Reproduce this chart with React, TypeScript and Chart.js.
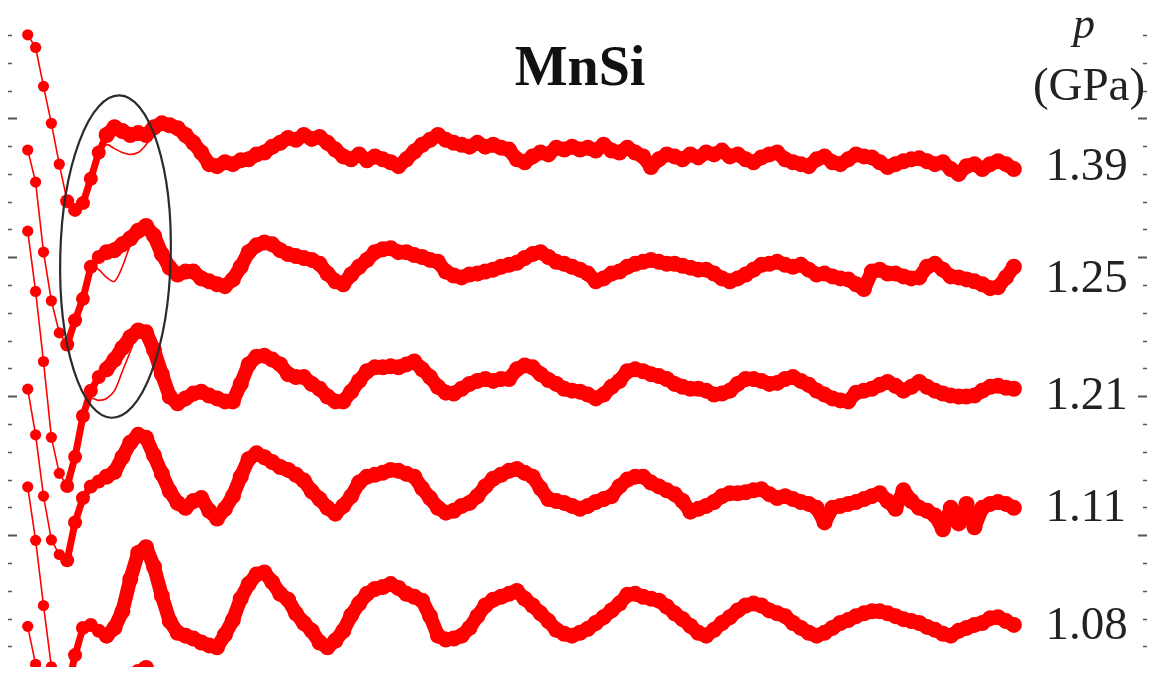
import React, { useEffect, useRef } from "react";
import { Chart, registerables } from "chart.js";

Chart.register(...registerables);

// ---- time bins (µs) ----
const BIN_START = 0.1;
const BIN_WIDTH = 0.04;

// ---- curve labels and vertical offsets (arb. units) ----
const pressures = ["1.39", "1.25", "1.21", "1.11", "1.08"];
const offsets = [268.4, 188.3, 104.0, 23.2, -61.8, -147.5];

// ---- muon spin rotation signals (deviation from each offset) ----
const p139 = [
  91.7, 82.6, 54.6, 28, -1.4, -28, -34.3, -29.4, -11.9, 7,
  19.6, 25.2, 22.4, 19.6, 21, 19.6, 25.2, 28, 26.6, 24.5,
  19.6, 14, 7, -1.4, -2.8, 0, -1.4, 1.4, 2.1, 5.6,
  7, 11.2, 14, 17.5, 16.1, 19.6, 16.8, 18.2, 14, 9.1,
  4.2, 2.1, 5.6, 1.4, 4.2, 2.1, 0, -2.8, 2.1, 7.7,
  12.6, 16.1, 19.6, 16.1, 14, 12.6, 11.2, 14, 11.2, 12.6,
  10.5, 9.1, 2.1, 0, 4.2, 7, 5.6, 10.5, 9.1, 11.2,
  9.1, 10.5, 8.4, 12.6, 8.4, 7, 10.5, 7, 4.2, -3.5,
  2.1, 5.6, 4.2, 2.1, 5.6, 3.5, 7, 5.6, 8.4, 4.2,
  5.6, 2.1, 0, 3.5, 5.6, 7, 2.1, 0, -1.4, -2.8,
  2.1, 4.2, 0, -1.4, 2.1, 5.6, 4.2, 3.5, 0, -3.5,
  -1.4, 0.7, 2.1, 2.8, 0.7, -1.4, 0, -4.9, -8.4, -2.8,
  -1.4, -4.9, -1.4, 0.7, -1.4, -4.9,
];
const p125 = [
  88.9, 65.8, 15.4, -19.6, -42.7, -51.1, -33.6, -18.2, 4.9, 11.9,
  15.4, 16.8, 21, 25.2, 30.8, 34.3, 27.3, 14, 4.2, -0.7,
  1.4, 1.4, -3.5, -5.6, -7.7, -9.1, -4.2, 4.9, 15.4, 20.3,
  22.4, 21, 16.8, 14, 12.6, 11.2, 9.8, 7, 0, -5.6,
  -7.7, -0.7, 4.9, 9.8, 15.4, 17.5, 18.2, 15.4, 15.4, 13.3,
  11.9, 9.8, 8.4, 1.4, -1.4, -2.8, -0.7, 0, 1.4, 2.8,
  4.9, 6.3, 7.7, 11.2, 14, 15.4, 11.9, 8.4, 7, 4.9,
  2.8, 0, -5.6, -3.5, 0, 1.4, 4.9, 7, 8.4, 9.8,
  8.4, 7, 7, 5.6, 4.2, 2.8, 2.8, 0, -3.5, -5.6,
  -3.5, -0.7, 2.8, 6.3, 7, 8.4, 6.3, 4.9, 6.3, 2.8,
  -0.7, 0, -2.1, -3.5, -4.2, -7.7, -11.2, 1.4, 2.8, 0,
  0, -2.1, -3.5, -2.8, 4.9, 7, 2.8, -2.1, -2.8, -4.2,
  -5.6, -7.7, -10.5, -9.8, -2.8, 4.9,
];
const p121 = [
  114.8, 71.4, 21, -33.6, -59.5, -68.6, -47.6, -18.2, 0, 9.8,
  15.4, 22.4, 30.8, 38.5, 43.4, 42, 29.4, 11.9, -4.2, -9.1,
  -5.6, -2.1, -0.7, -3.5, -5.6, -7.7, -7.7, 4.9, 18.9, 24.5,
  25.2, 22.4, 18.9, 11.9, 9.8, 9.8, 4.9, 1.4, -4.2, -7.7,
  -7.7, -0.7, 7, 14, 16.8, 16.8, 17.5, 16.8, 18.9, 21,
  15.4, 9.8, 2.8, -1.4, -2.1, 1.4, 4.9, 7, 8.4, 7,
  8.4, 8.4, 15.4, 18.2, 16.8, 11.9, 7.7, 4.9, 1.4, 0,
  -0.7, -2.8, -5.6, -2.8, 2.8, 7, 14, 15.4, 14, 11.9,
  10.5, 8.4, 4.9, 2.8, 1.4, 1.4, 0, -2.8, -2.1, 0,
  4.9, 8.4, 8.4, 7, 4.9, 5.6, 8.4, 9.8, 7, 4.2,
  0, -2.8, -5.6, -7, -7.7, -1.4, 0, 1.4, 4.2, 6.3,
  3.5, 0, 2.8, 6.3, 2.8, 0, -2.1, -3.5, -4.2, -4.2,
  -3.5, 0, 2.8, 3.5, 2.1, 1.4,
];
const p111 = [
  81.9, 49, 4.9, -26.6, -37.1, -41.3, -14, 3.5, 11.9, 15.4,
  18.9, 22.4, 32.9, 43.4, 49, 46.9, 34.3, 21, 8.4, 0,
  -3.5, 1.4, 3.5, -5.6, -11.2, -4.2, 4.9, 18.9, 31.5, 35.7,
  32.9, 29.4, 25.9, 23.8, 20.3, 16.1, 8.4, 2.8, -3.5, -7.7,
  -2.1, 4.9, 14.7, 18.9, 20.3, 21.7, 23.8, 23.1, 21, 18.9,
  10.5, 3.5, -3.5, -7, -5.6, -2.1, 0, 4.9, 11.9, 17.5,
  20.3, 23.1, 24.5, 21.7, 18.9, 10.5, 2.8, 1.4, 0, -2.1,
  -4.2, -2.1, 0.7, 2.8, 4.9, 11.9, 16.8, 18.9, 18.9, 14.7,
  11.9, 9.1, 6.3, 1.4, -6.3, -4.2, -2.1, 0.7, 4.9, 7,
  7, 7.7, 9.1, 9.8, 6.3, 3.5, 4.9, 2.8, 0.7, -0.7,
  -3.5, -14, -3.5, -2.1, -0.7, 0.7, 2.8, 4.9, 7, 1.4,
  -4.2, 9.1, 1.4, -3.5, -5.6, -9.1, -18.9, -3.5, -14.7, -0.7,
  -17.5, -3.5, -0.7, 0.7, -0.7, -3.5,
];
const p108 = [
  96.6, 58.1, 11.2, -32.9, -60.9, -50.4, -24.5, -4.9, -2.8, -7,
  -10.5, -4.9, 7, 30.1, 49, 53.2, 39.2, 18.2, 0, -8.4,
  -10.5, -12.6, -15.4, -17.5, -18.9, -9.8, 0.7, 16.1, 26.6, 33.6,
  35, 28, 19.6, 15.4, 5.6, -1.4, -7, -15.4, -18.9, -14,
  -7, 4.2, 12.6, 19.6, 23.1, 24.5, 26.6, 23.8, 19.6, 17.5,
  14.7, 3.5, -10.5, -13.3, -12.6, -10.5, -4.9, 3.5, 11.2, 15.4,
  17.5, 19.6, 21.7, 16.1, 11.2, 5.6, 0, -6.3, -9.1, -10.5,
  -8.4, -5.6, -1.4, 2.8, 7.7, 12.6, 18.9, 19.6, 17.5, 16.1,
  14.7, 10.5, 5.6, 1.4, -3.5, -8.4, -10.5, -6.3, -1.4, 2.8,
  7.7, 11.2, 12.6, 11.2, 7.7, 5.6, 3.5, -1.4, -4.9, -8.4,
  -10.5, -8.4, -4.9, -1.4, 0.7, 3.5, 5.6, 7, 7, 5.6,
  3.5, 1.4, 0, -1.4, -4.2, -6.3, -9.1, -10.5, -7, -4.9,
  -2.8, -1.4, 2.1, 2.8, 0, -2.8,
];
// next (lower-pressure) curve, only its top edge is visible
const pLow = [
  81.9, 54.6, 19.6, -14, -42, -56, -45.5, -28, -14, -7,
  0, 10.5, 24, 38, 49, 52, 42, 26, 10.5, -1.4, -7,
];

// ---- fit curves inside the ellipse ----
const fitTime139 = [0.42, 0.46, 0.5, 0.54, 0.58, 0.62, 0.66, 0.7, 0.74, 0.78];
const fit139 = [-9.8, 5.6, 12.6, 9.8, 7, 5.6, 7, 12.6, 21, 26.6];
const fitTime125 = [0.38, 0.42, 0.46, 0.5, 0.54, 0.58, 0.62, 0.66, 0.7];
const fit125 = [-18.2, 4.9, 2.8, -2.8, -5.6, 4.9, 20.3, 29.4, 34.3];
const fitTime121 = [0.38, 0.42, 0.46, 0.5, 0.54, 0.58, 0.62, 0.66, 0.7];
const fit121 = [-19.6, -5.6, -7, -5.6, 0, 14, 28, 41.3, 42];

// ---- axis ----
const X_MIN = 0;
const X_MAX = 5.775;
const Y_MIN = -94.85;
const Y_MAX = 379.4;
const majorTicks = [0, 100, 200, 300];
const minorTicks = [-80, -60, -40, -20, 20, 40, 60, 80, 120, 140, 160, 180, 220, 240, 260, 280, 320, 340, 360];

// ---- annotation ellipse (time µs, value) ----
const ellipseCenter = [0.545, 200.5];
const ellipseRadii = [0.28, 116];
const LABEL_TIME = 5.26;
const SPARSE_UNTIL = 0.3; // µs: isolated points before this
const DENSE_FROM = 0.5; // µs: points merge into a solid band after this

const RED = "#ff0000";
const SERIF = '"Liberation Serif", "Times New Roman", serif';

const series = [p139, p125, p121, p111, p108, pLow];
const fits = [
  { t: fitTime139, v: fit139, off: offsets[0] },
  { t: fitTime125, v: fit125, off: offsets[1] },
  { t: fitTime121, v: fit121, off: offsets[2] },
];

const overlayPlugin = {
  id: "overlay",
  afterDatasetsDraw(chart: any) {
    const { ctx } = chart;
    const xs = chart.scales.x;
    const ys = chart.scales.y;
    ctx.save();

    // ellipse
    const cx = xs.getPixelForValue(ellipseCenter[0]);
    const cy = ys.getPixelForValue(ellipseCenter[1]);
    const rx = xs.getPixelForValue(ellipseCenter[0] + ellipseRadii[0]) - cx;
    const ry = Math.abs(ys.getPixelForValue(ellipseCenter[1] - ellipseRadii[1]) - cy);
    ctx.beginPath();
    ctx.ellipse(cx, cy, rx, ry, 0.025, 0, Math.PI * 2);
    ctx.strokeStyle = "#2b2b2b";
    ctx.lineWidth = 2.2;
    ctx.stroke();

    // inward ticks on left and right frame edges
    const left = chart.chartArea.left;
    const right = chart.chartArea.right;
    ctx.strokeStyle = "#555";
    ctx.lineWidth = 2;
    const drawTick = (v: number, len: number) => {
      const py = Math.round(ys.getPixelForValue(v)) + 0.5;
      ctx.beginPath();
      ctx.moveTo(left, py);
      ctx.lineTo(left + len, py);
      ctx.moveTo(right, py);
      ctx.lineTo(right - len, py);
      ctx.stroke();
    };
    majorTicks.forEach((v) => drawTick(v, 9));
    ctx.lineWidth = 1.5;
    minorTicks.forEach((v) => drawTick(v, 4));

    // title
    ctx.fillStyle = "#111";
    ctx.textAlign = "center";
    ctx.textBaseline = "alphabetic";
    ctx.font = `bold 56px ${SERIF}`;
    ctx.fillText("MnSi", 580, 85);

    // pressure header
    ctx.fillStyle = "#222";
    ctx.font = `italic 44px ${SERIF}`;
    ctx.fillText("p", 1084, 38);
    ctx.font = `47px ${SERIF}`;
    ctx.fillText("(GPa)", 1089, 100);

    // pressure labels
    ctx.textAlign = "left";
    const lx = xs.getPixelForValue(LABEL_TIME);
    ctx.font = `47px ${SERIF}`;
    pressures.forEach((p, i) => {
      const py = ys.getPixelForValue(offsets[i]);
      ctx.fillText(p, lx, py + 18);
    });

    ctx.restore();
  },
};

export default function App() {
  const canvasRef = useRef<HTMLCanvasElement | null>(null);

  useEffect(() => {
    document.body.style.margin = "0";
    const canvas = canvasRef.current;
    if (!canvas) return;

    const time = p139.map((_, i) => +(BIN_START + i * BIN_WIDTH).toFixed(3));

    const datasets: any[] = [];
    series.forEach((s, si) => {
      datasets.push({
        data: s.map((v, i) => ({ x: time[i], y: offsets[si] + v })),
        showLine: true,
        borderColor: RED,
        borderWidth: 1.6,
        borderJoinStyle: "round",
        borderCapStyle: "round",
        segment: {
          borderWidth: (c: any) => {
            const t = c.p0.parsed.x;
            if (t >= DENSE_FROM) return 14;
            if (t >= SPARSE_UNTIL) return 7;
            return 1.6;
          },
        },
        pointRadius: (c: any) => {
          const t = c.parsed ? c.parsed.x : 0;
          if (t >= DENSE_FROM) return 8;
          if (t >= SPARSE_UNTIL) return 7;
          return 5.6;
        },
        pointBackgroundColor: RED,
        pointBorderWidth: 0,
        pointHoverRadius: 6,
      });
    });
    fits.forEach((f) => {
      datasets.push({
        data: f.t.map((t, i) => ({ x: t, y: f.off + f.v[i] })),
        showLine: true,
        borderColor: RED,
        borderWidth: 1.6,
        pointRadius: 0,
        tension: 0.3,
      });
    });

    const chart = new Chart(canvas, {
      type: "scatter",
      data: { datasets },
      options: {
        animation: false,
        responsive: false,
        maintainAspectRatio: false,
        layout: { padding: 0 },
        events: [],
        plugins: {
          legend: { display: false },
          tooltip: { enabled: false },
          title: { display: false },
        },
        scales: {
          x: { type: "linear", min: X_MIN, max: X_MAX, display: false },
          y: { type: "linear", min: Y_MIN, max: Y_MAX, display: false },
        },
      },
      plugins: [overlayPlugin],
    });

    return () => chart.destroy();
  }, []);

  return (
    <div style={{ position: "fixed", left: 0, top: 0, width: 1155, height: 675, background: "#fff" }}>
      <canvas ref={canvasRef} width={1155} height={675} style={{ display: "block" }} />
    </div>
  );
}
